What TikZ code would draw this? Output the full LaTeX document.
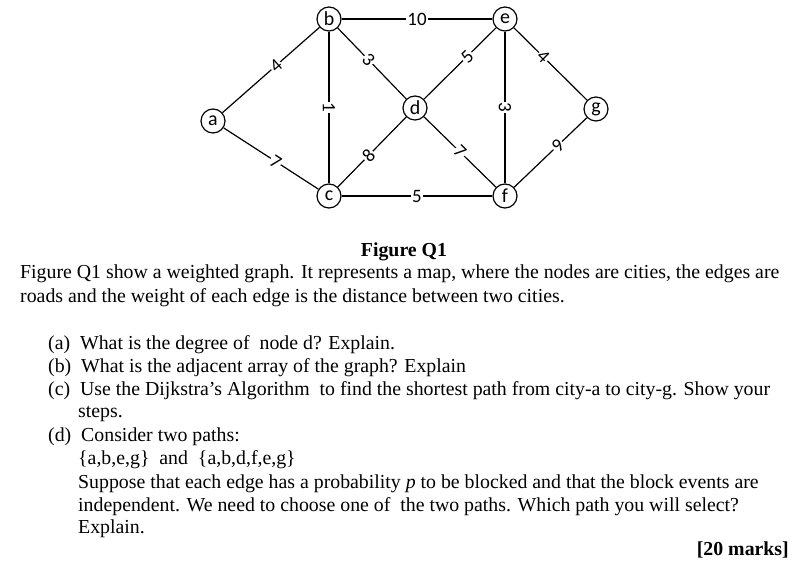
\documentclass[tikz,border=0pt]{standalone}
\usepackage{fontspec}
\setmainfont{Liberation Serif}
\newfontfamily\nodefont{Carlito}
\begin{document}
\begin{tikzpicture}[x=1bp,y=-1bp,
  city/.style={circle,draw,line width=1.2pt,minimum size=24bp,inner sep=0pt,font=\nodefont\fontsize{20}{20}\selectfont,fill=white},
  road/.style={line width=1.2pt},
  wt/.style={fill=white,inner sep=1pt,font=\nodefont\fontsize{19}{19}\selectfont,sloped},
  txt/.style={anchor=base west,inner sep=0pt,font=\fontsize{19.9}{22}\selectfont}]
\useasboundingbox (0,0) rectangle (810,581);
\node[city] (a) at (213,121) {a};
\node[city] (b) at (329,19) {b};
\node[city] (c) at (329,196) {c};
\node[city] (d) at (415,108) {d};
\node[city] (e) at (505,19) {e};
\node[city] (f) at (505,196) {f};
\node[city] (g) at (596,109) {g};
\draw[road] (a) -- node[wt,pos=0.55]{4} (b);
\draw[road] (a) -- node[wt,pos=0.55]{7} (c);
\draw[road] (b) -- node[wt]{10} (e);
\draw[road] (b) -- node[wt]{1} (c);
\draw[road] (b) -- node[wt,pos=0.45]{3} (d);
\draw[road] (c) -- node[wt,pos=0.45]{8} (d);
\draw[road] (c) -- node[wt]{5} (f);
\draw[road] (d) -- node[wt,pos=0.6]{5} (e);
\draw[road] (d) -- node[wt,pos=0.5]{7} (f);
\draw[road] (e) -- node[wt]{3} (f);
\draw[road] (e) -- node[wt,pos=0.4]{4} (g);
\draw[road] (f) -- node[wt,pos=0.6]{9} (g);
\node[font=\bfseries\fontsize{19.9}{22}\selectfont,anchor=base,inner sep=0pt] (cap) at (404,256) {Figure Q1};
\node[txt] (l1) at (20,278) {Figure Q1 show a weighted graph. It represents a map, where the nodes are cities, the edges are};
\node[txt] (l2) at (20,302) {roads and the weight of each edge is the distance between two cities.};
\node[txt] (qa) at (48,349) {(a)\ \ What is the degree of \ node d? Explain.};
\node[txt] (qb) at (48,372) {(b)\ \ What is the adjacent array of the graph? Explain};
\node[txt] (qc) at (48,395) {(c)\ \ Use the Dijkstra’s Algorithm \ to find the shortest path from city-a to city-g. Show your};
\node[txt] (qc2) at (78,417) {steps.};
\node[txt] (qd) at (48,441) {(d)\ \ Consider two paths:};
\node[txt] (qd2) at (78,464) {\{a,b,e,g\} \ and \ \{a,b,d,f,e,g\}};
\node[txt] (qd3) at (78,488) {Suppose that each edge has a probability \textit{p} to be blocked and that the block events are};
\node[txt] (qd4) at (78,511) {independent. We need to choose one of \ the two paths. Which path you will select?};
\node[txt] (qd5) at (78,533) {Explain.};
\node[font=\bfseries\fontsize{19.9}{22}\selectfont,anchor=base east,inner sep=0pt] (mk) at (789,555) {[20 marks]};
\end{tikzpicture}
\end{document}
